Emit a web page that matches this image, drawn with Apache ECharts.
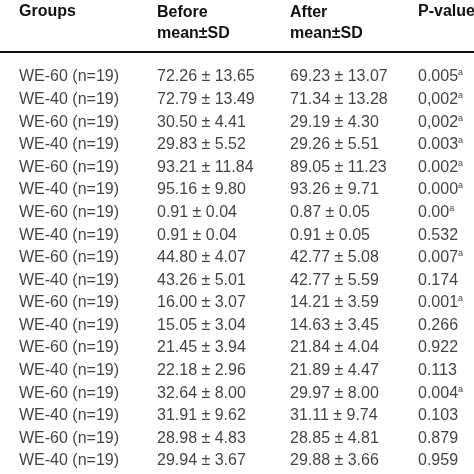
<!DOCTYPE html>
<html><head><meta charset="utf-8">
<script src="https://cdn.jsdelivr.net/npm/echarts@6/dist/echarts.min.js"></script>
<style>html,body{margin:0;background:#fff}#c{width:474px;height:474px}</style>
</head><body><div id="c"></div>
<script>
var columns = ['Groups', 'Before', 'After', 'P-value'];
var groups = ['WE-60 (n=19)','WE-40 (n=19)','WE-60 (n=19)','WE-40 (n=19)','WE-60 (n=19)','WE-40 (n=19)',
  'WE-60 (n=19)','WE-40 (n=19)','WE-60 (n=19)','WE-40 (n=19)','WE-60 (n=19)','WE-40 (n=19)',
  'WE-60 (n=19)','WE-40 (n=19)','WE-60 (n=19)','WE-40 (n=19)','WE-60 (n=19)','WE-40 (n=19)'];
var before = ['72.26 ± 13.65','72.79 ± 13.49','30.50 ± 4.41','29.83 ± 5.52','93.21 ± 11.84','95.16 ± 9.80',
  '0.91 ± 0.04','0.91 ± 0.04','44.80 ± 4.07','43.26 ± 5.01','16.00 ± 3.07','15.05 ± 3.04',
  '21.45 ± 3.94','22.18 ± 2.96','32.64 ± 8.00','31.91 ± 9.62','28.98 ± 4.83','29.94 ± 3.67'];
var after = ['69.23 ± 13.07','71.34 ± 13.28','29.19 ± 4.30','29.26 ± 5.51','89.05 ± 11.23','93.26 ± 9.71',
  '0.87 ± 0.05','0.91 ± 0.05','42.77 ± 5.08','42.77 ± 5.59','14.21 ± 3.59','14.63 ± 3.45',
  '21.84 ± 4.04','21.89 ± 4.47','29.97 ± 8.00','31.11 ± 9.74','28.85 ± 4.81','29.88 ± 3.66'];
var pvalues = ['0.005','0,002','0,002','0.003','0.002','0.000','0.00','0.532','0.007','0.174',
  '0.001','0.266','0.922','0.113','0.004','0.103','0.879','0.959'];
var signif = [1,1,1,1,1,1,1,0,1,0,1,0,0,0,1,0,0,0];

var rows = groups.map(function (g, i) { return 'r' + i; });
var colTexts = [groups, before, after, pvalues.map(function (p, i) {
  return signif[i] ? p + '{s|a}' : p;
})];
// band centres 59.25, 177.75, 296.25, 414.75 -> shift to left edges 19, 157, 290, 418
var colOffset = [-40.25, -20.75, -6.25, 3.25];

var series = colTexts.map(function (texts, c) {
  return {
    type: 'scatter', symbolSize: 0, silent: true,
    data: texts.map(function (t, i) { return { value: [columns[c], rows[i]], txt: t }; }),
    label: {
      show: true, position: 'inside', align: 'left', offset: [colOffset[c], 0],
      color: '#111', fontSize: 16, fontFamily: 'Liberation Sans, Arial',
      formatter: function (p) { return p.data.txt; },
      rich: { s: { fontSize: 9, verticalAlign: 'top', color: '#111', padding: [0, 0, 8, 0] } }
    }
  };
});

var chart = echarts.init(document.getElementById('c'));
chart.setOption({
  animation: false,
  grid: { left: 0, right: 0, top: 65.7, height: 406.6 },
  xAxis: { type: 'category', data: columns, show: false },
  yAxis: { type: 'category', data: rows, inverse: true, show: false },
  graphic: [
    { type: 'text', left: 19, top: 4, style: { text: 'Groups', font: 'bold 16px Liberation Sans, Arial', fill: '#111' } },
    { type: 'text', left: 157, top: 2, style: { text: 'Before\nmean±SD', lineHeight: 21, font: 'bold 16px Liberation Sans, Arial', fill: '#111' } },
    { type: 'text', left: 290, top: 2, style: { text: 'After\nmean±SD', lineHeight: 21, font: 'bold 16px Liberation Sans, Arial', fill: '#111' } },
    { type: 'text', left: 418, top: 4, style: { text: 'P-value', font: 'bold 16px Liberation Sans, Arial', fill: '#111' } },
    { type: 'rect', shape: { x: 0, y: 51, width: 474, height: 2 }, style: { fill: '#111' } }
  ],
  series: series
});
</script></body></html>
